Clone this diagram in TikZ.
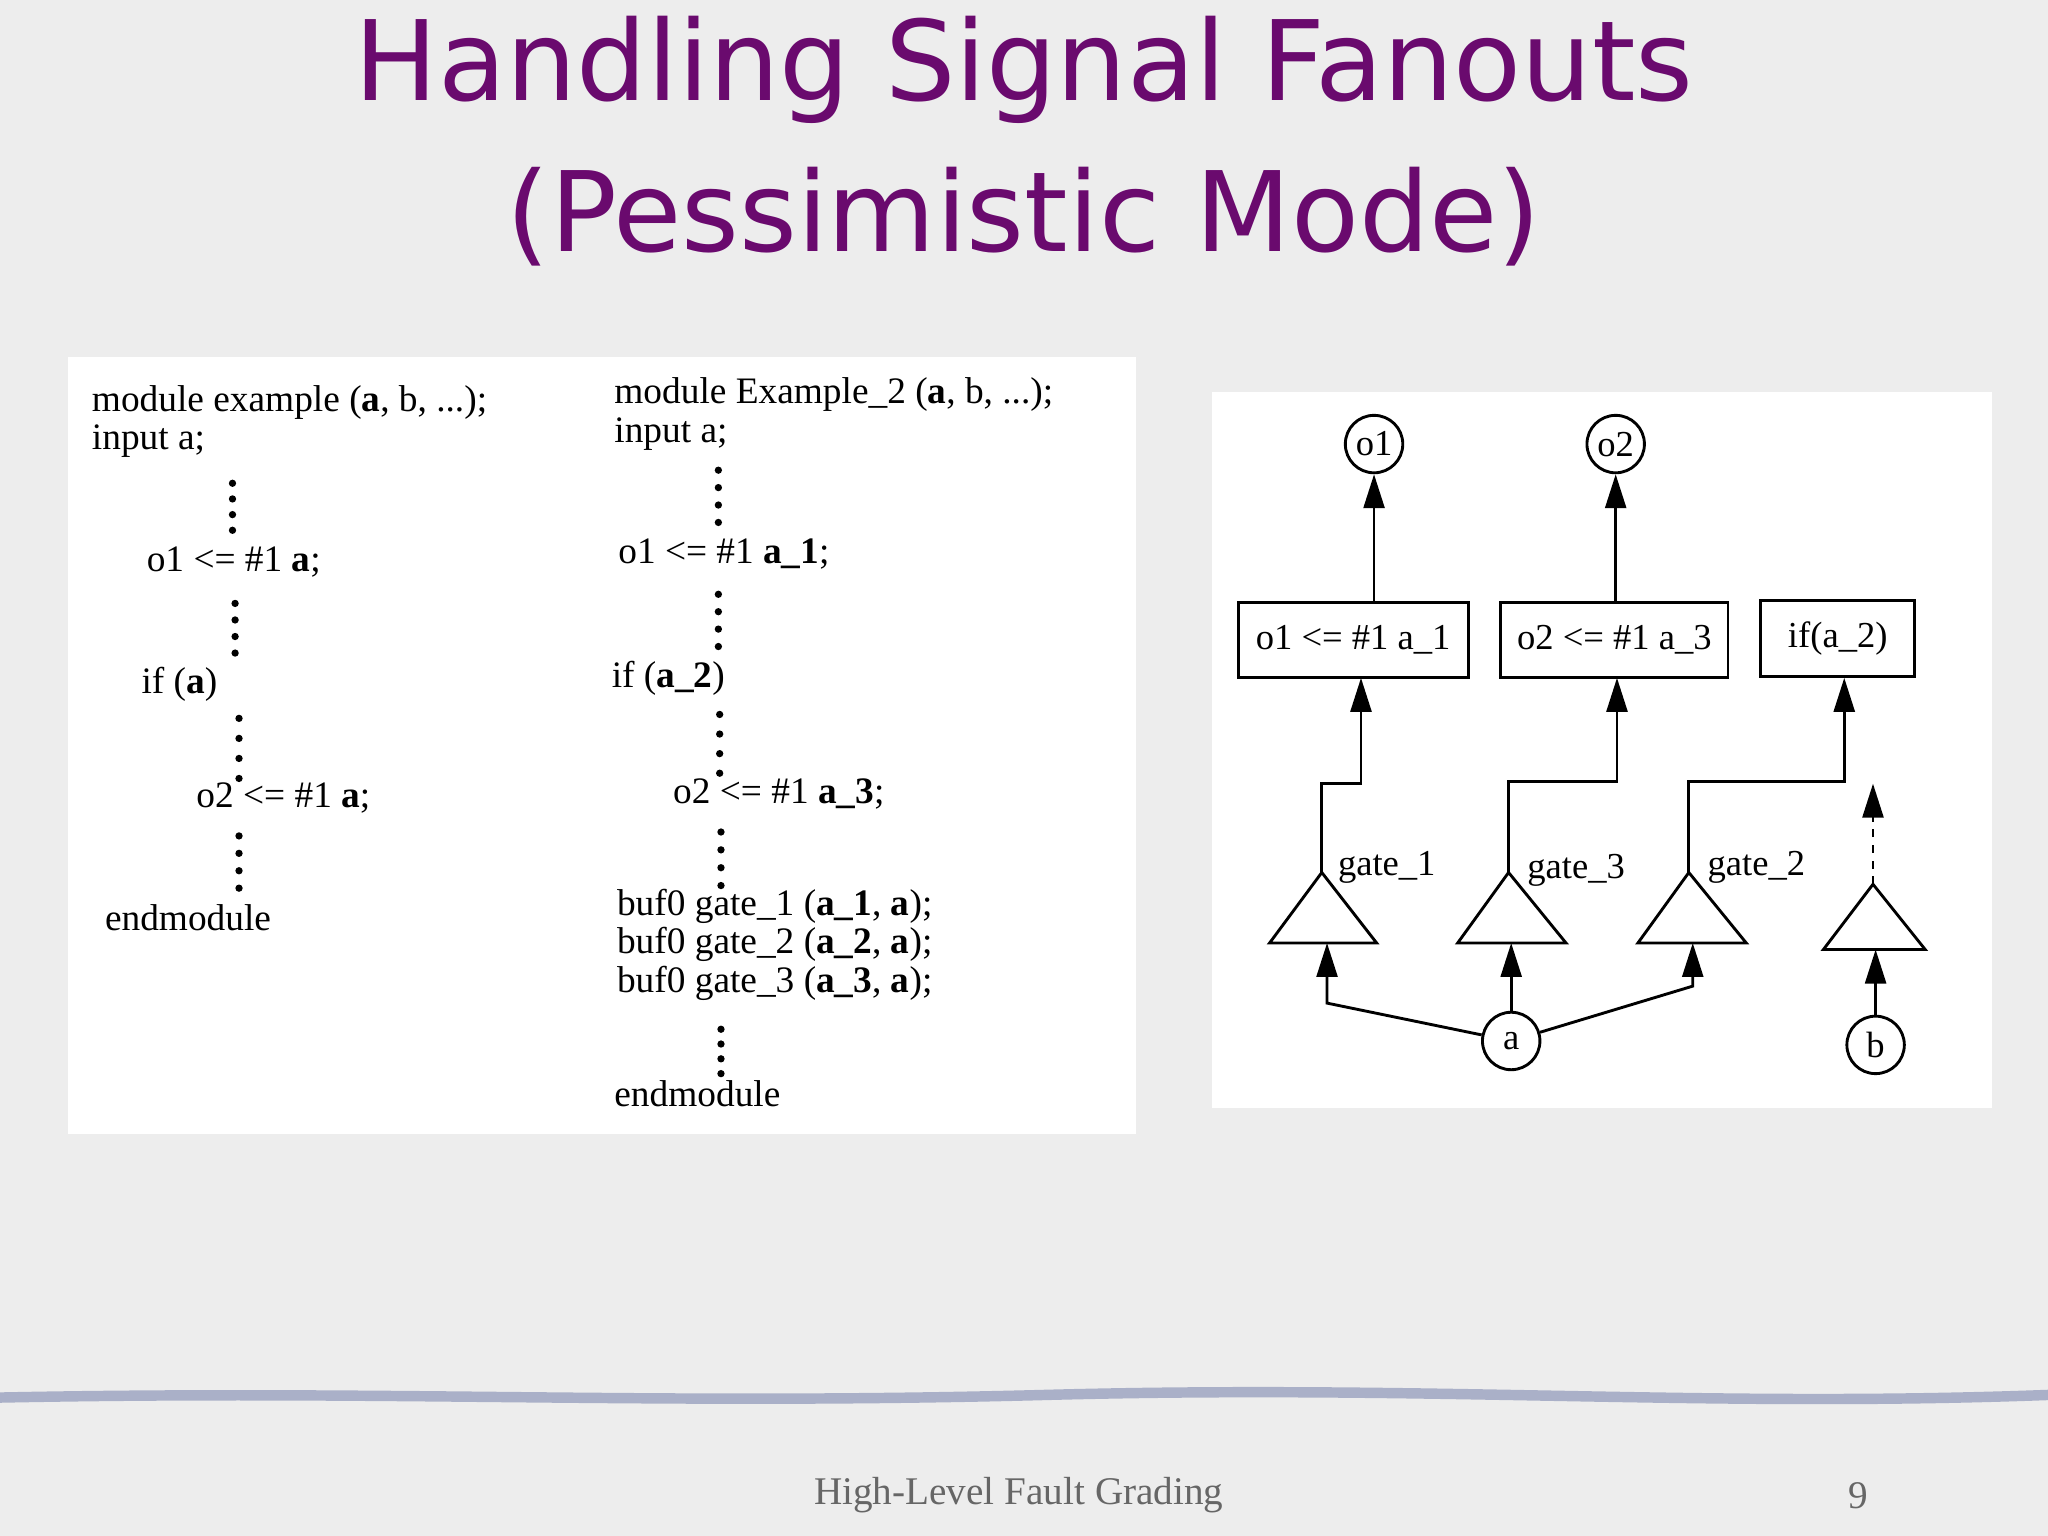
\documentclass[tikz,border=0pt]{standalone}
\usepackage{fontspec}
\setmainfont{Liberation Serif}
\newfontfamily\titlefont{DejaVu Sans}
\usetikzlibrary{arrows.meta}
\definecolor{bg}{HTML}{EDEDED}
\definecolor{ttl}{HTML}{6A0A6E}
\definecolor{wave}{HTML}{AAB0C8}
\begin{document}
\begin{tikzpicture}[x=0.5pt,y=-0.5pt,
  code/.style={anchor=west,inner sep=0pt,font=\fontsize{14.3}{15}\selectfont},
  circ/.style={draw,circle,line width=1.1pt,minimum size=22pt,inner sep=0pt,font=\fontsize{14}{15}\selectfont},
  box/.style={draw,line width=1.1pt,minimum height=29pt,inner sep=0pt,font=\fontsize{14}{15}\selectfont},
  lbl/.style={anchor=west,inner sep=0pt,font=\fontsize{14}{15}\selectfont},
  ar/.style={line width=1.1pt,-{Triangle[length=13pt,width=8pt]}},
  ln/.style={line width=1.1pt}]
\fill[bg] (0,0) rectangle (1568,1176);
\useasboundingbox (0,0) rectangle (1568,1176);
\node[text=ttl,font=\titlefont\fontsize{42.5}{58}\selectfont,align=center] (title) at (784,108) {Handling Signal Fanouts\\(Pessimistic Mode)};
\fill[white] (52,273) rectangle (870,868);
\fill[white] (928,300) rectangle (1525,848);
% left code
\node[code] (l1) at (70,308) {module example (\textbf{a}, b, ...);};
\node[code] (l2) at (70,338) {input a;};
\node[code] (l3) at (112,430) {o1 <= \#1 \textbf{a};};
\node[code] (l4) at (108,524) {if (\textbf{a})};
\node[code] (l5) at (150,611) {o2 <= \#1 \textbf{a};};
\node[code] (l6) at (80,703) {endmodule};
% middle code
\node[code] (m1) at (470,302) {module Example\_2 (\textbf{a}, b, ...);};
\node[code] (m2) at (470,332) {input a;};
\node[code] (m3) at (473,424) {o1 <= \#1 \textbf{a\_1};};
\node[code] (m4) at (468,519) {if (\textbf{a\_2})};
\node[code] (m5) at (515,608) {o2 <= \#1 \textbf{a\_3};};
\node[code] (m6) at (472,694) {buf0 gate\_1 (\textbf{a\_1}, \textbf{a});};
\node[code] (m7) at (472,723) {buf0 gate\_2 (\textbf{a\_2}, \textbf{a});};
\node[code] (m8) at (472,753) {buf0 gate\_3 (\textbf{a\_3}, \textbf{a});};
\node[code] (m9) at (470,837) {endmodule};
% dots
\foreach \x/\ya/\yb in {178/370/406,180/462/500,183/550/596,183/640/680,
  550/360/400,550/455/495,551/547/592,552/637/678,552/788/822}{
  \foreach \k in {0,1,2,3}{\fill ({\x},{\ya+\k*(\yb-\ya)/3}) circle (1.4pt);}}
% diagram
\node[circ] (o1) at (1052,340) {o1};
\node[circ] (o2) at (1237,340) {o2};
\node[box,minimum width=88pt] (b1) at (1036,490) {o1 <= \#1 a\_1};
\node[box,minimum width=87pt] (b2) at (1236,490) {o2 <= \#1 a\_3};
\node[box,minimum width=59pt] (b3) at (1407,489) {if(a\_2)};
\node[circ] (a) at (1157,797) {a};
\node[circ] (b) at (1436,800) {b};
\coordinate (t1) at (1012,668);
\coordinate (t2) at (1155,668);
\coordinate (t3) at (1293,668);
\coordinate (t4) at (1434,677);
\draw[ln] (t1) -- (972,722) -- (1054,722) -- cycle;
\draw[ln] (t2) -- (1116,722) -- (1199,722) -- cycle;
\draw[ln] (t3) -- (1254,722) -- (1337,722) -- cycle;
\draw[ln] (t4) -- (1396,727) -- (1474,727) -- cycle;
\node[lbl] (g1) at (1024,664) {gate\_1};
\node[lbl] (g3) at (1169,666) {gate\_3};
\node[lbl] (g2) at (1307,664) {gate\_2};
\draw[ar] (b1.north -| o1) -- (o1);
\draw[ar] (b2.north -| o2) -- (o2);
\draw[ar] (t1) -- (1012,600) -- (1042,600) -- (1042,519);
\draw[ar] (t2) -- (1155,598) -- (1238,598) -- (1238,519);
\draw[ar] (t3) -- (1293,598) -- (1412,598) -- (1412,519);
\draw[ar,dashed] (t4) -- (1434,600);
\draw[ar] (a) -- (1016,768) -- (1016,722);
\draw[ar] (a) -- (1157,722);
\draw[ar] (a) -- (1296,755) -- (1296,722);
\draw[ar] (b) -- (1436,727);
% wave
\draw[wave,line width=4pt] (0,1070) .. controls (300,1064) and (500,1076) .. (800,1068) .. controls (1100,1060) and (1300,1078) .. (1568,1068);
\node[text=black!60,font=\fontsize{15}{16}\selectfont] (foot) at (780,1145) {High-Level Fault Grading};
\node[text=black!60,font=\fontsize{15}{16}\selectfont] (pg) at (1423,1145) {9};
\end{tikzpicture}
\end{document}
